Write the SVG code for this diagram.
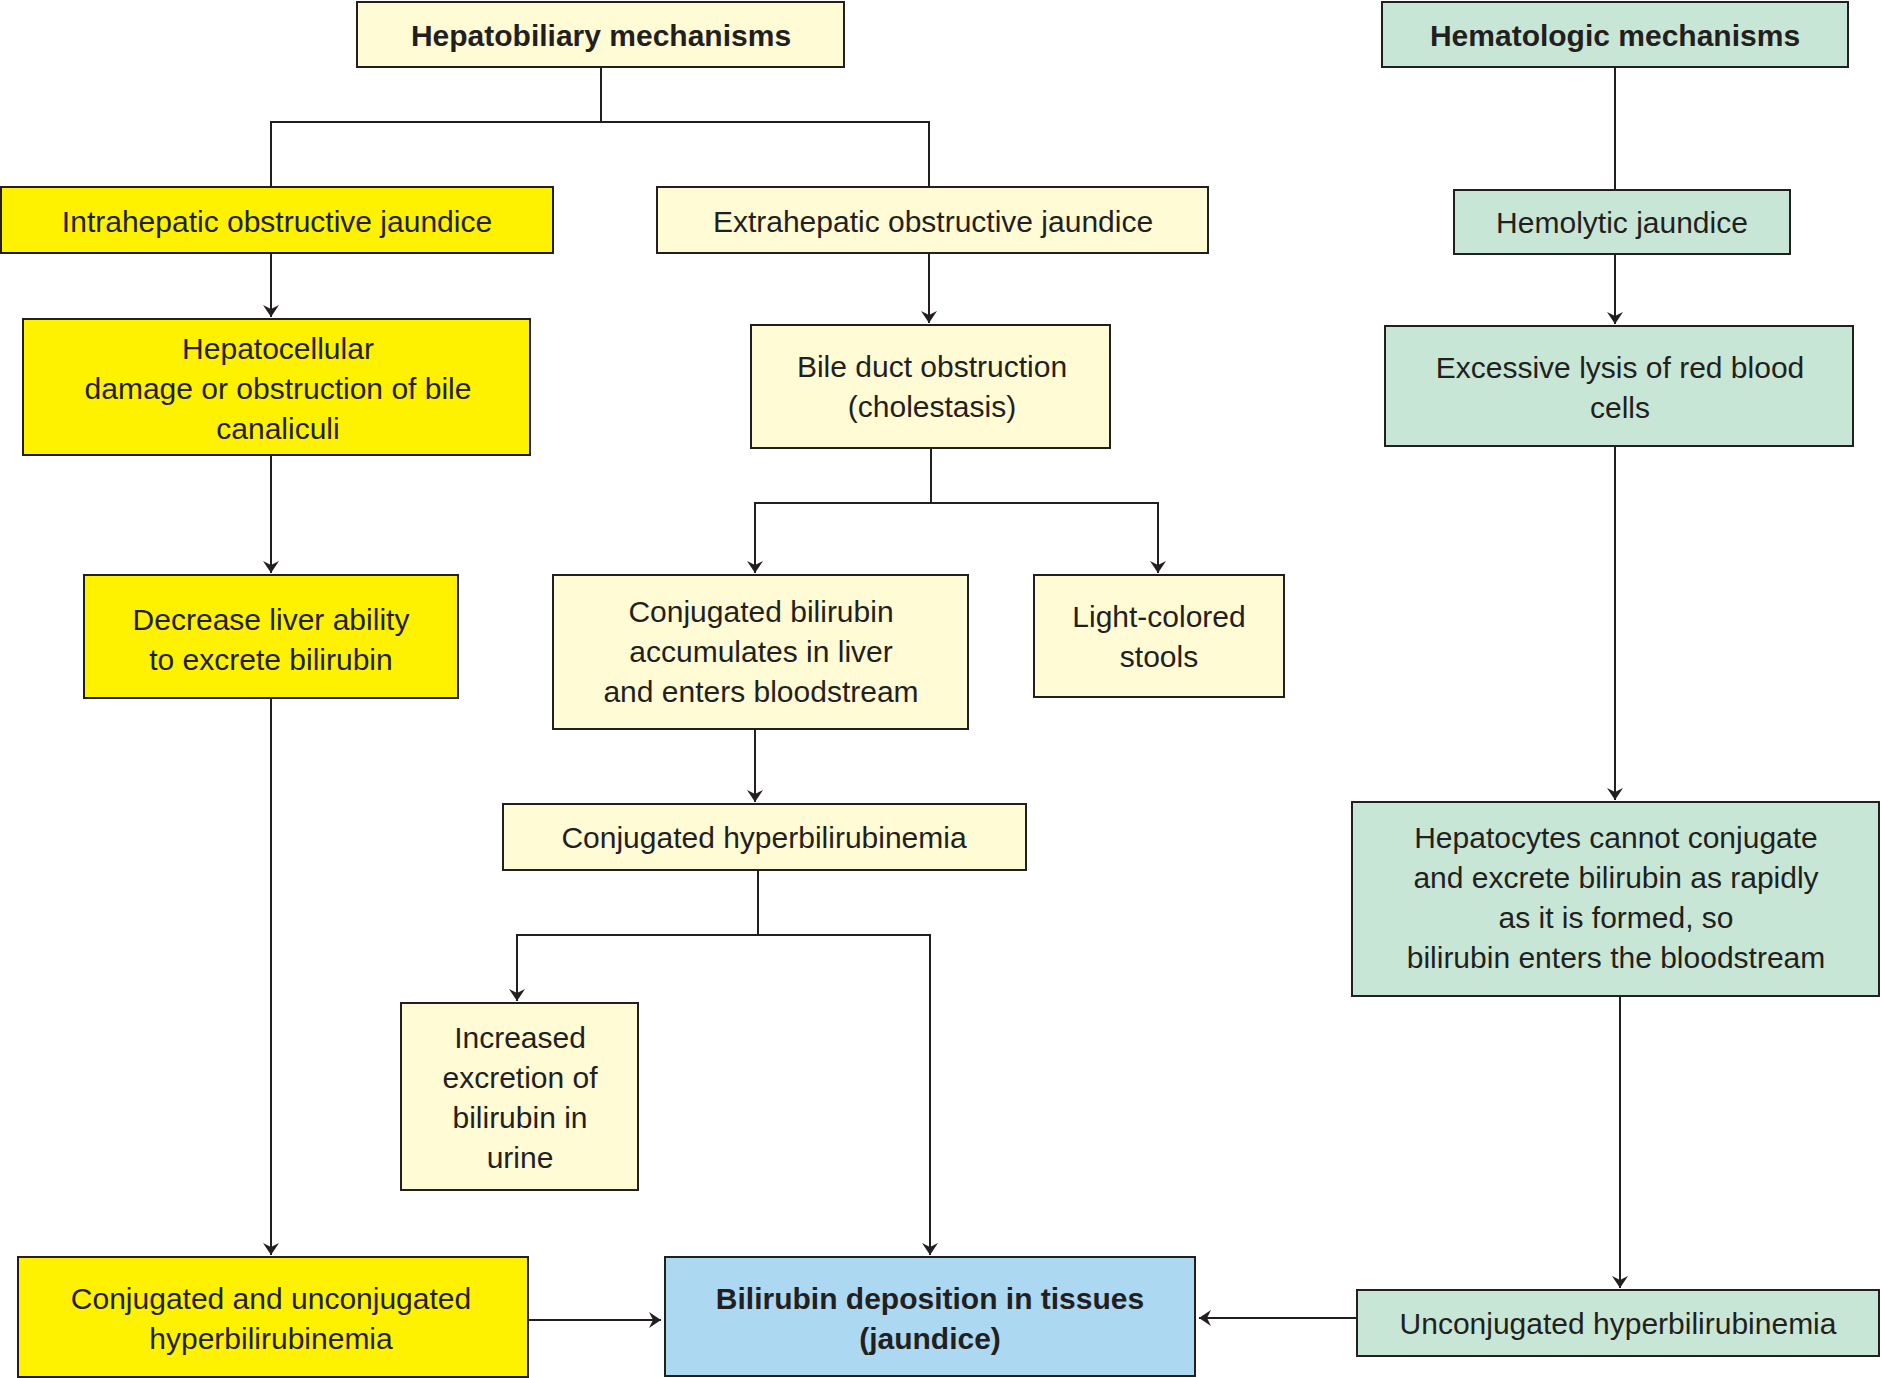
<svg xmlns="http://www.w3.org/2000/svg" width="1881" height="1378" viewBox="0 0 1881 1378">
<defs>
<style>
rect{stroke:#231f20;stroke-width:2}
.y{fill:#fff200}.p{fill:#fffbd5}.g{fill:#c8e6d6}.b{fill:#acd8f1}
text{font-family:"Liberation Sans",Arial,sans-serif;font-size:30px;fill:#231f20;text-anchor:middle}
.bd{font-weight:bold}
#connectors path{fill:none;stroke:#231f20;stroke-width:2}
</style>
<marker id="a" viewBox="0 0 12 20" refX="12" refY="10" markerWidth="12" markerHeight="20" markerUnits="userSpaceOnUse" orient="auto"><path d="M0,2 L12,10 L0,18 L4,10 Z" fill="#231f20"/></marker>
</defs>
<rect width="1881" height="1378" fill="#fff" style="stroke:none"/>
<g id="connectors">
<path d="M601,67 V122 M271,187 V122 H929 V187"/>
<path d="M1615,67 V190"/>
<path d="M271,253 V317" marker-end="url(#a)"/>
<path d="M929,253 V323" marker-end="url(#a)"/>
<path d="M1615,254 V324" marker-end="url(#a)"/>
<path d="M271,455 V573" marker-end="url(#a)"/>
<path d="M931,448 V503 H755 V573" marker-end="url(#a)"/>
<path d="M931,503 H1158 V573" marker-end="url(#a)"/>
<path d="M755,729 V802" marker-end="url(#a)"/>
<path d="M758,870 V935 H517 V1001" marker-end="url(#a)"/>
<path d="M758,935 H930 V1255" marker-end="url(#a)"/>
<path d="M271,698 V1255" marker-end="url(#a)"/>
<path d="M1615,446 V800" marker-end="url(#a)"/>
<path d="M1620,996 V1288" marker-end="url(#a)"/>
<path d="M528,1320 H661" marker-end="url(#a)"/>
<path d="M1357,1318 H1199" marker-end="url(#a)"/>
</g>
<g id="hepatobiliary"><rect class="p" x="357" y="2" width="487" height="65"/><text class="bd" x="601" y="46">Hepatobiliary mechanisms</text></g>
<g id="hematologic"><rect class="g" x="1382" y="2" width="466" height="65"/><text class="bd" x="1615" y="46">Hematologic mechanisms</text></g>
<g id="intrahepatic"><rect class="y" x="1" y="187" width="552" height="66"/><text x="277" y="232">Intrahepatic obstructive jaundice</text></g>
<g id="extrahepatic"><rect class="p" x="657" y="187" width="551" height="66"/><text x="933" y="232">Extrahepatic obstructive jaundice</text></g>
<g id="hemolytic"><rect class="g" x="1454" y="190" width="336" height="64"/><text x="1622" y="233">Hemolytic jaundice</text></g>
<g id="hepatocellular"><rect class="y" x="23" y="319" width="507" height="136"/><text x="278" y="359">Hepatocellular</text><text x="278" y="399">damage or obstruction of bile</text><text x="278" y="439">canaliculi</text></g>
<g id="bileduct"><rect class="p" x="751" y="325" width="359" height="123"/><text x="932" y="377">Bile duct obstruction</text><text x="932" y="417">(cholestasis)</text></g>
<g id="lysis"><rect class="g" x="1385" y="326" width="468" height="120"/><text x="1620" y="378">Excessive lysis of red blood</text><text x="1620" y="418">cells</text></g>
<g id="decrease"><rect class="y" x="84" y="575" width="374" height="123"/><text x="271" y="630">Decrease liver ability</text><text x="271" y="670">to excrete bilirubin</text></g>
<g id="accumulates"><rect class="p" x="553" y="575" width="415" height="154"/><text x="761" y="622">Conjugated bilirubin</text><text x="761" y="662">accumulates in liver</text><text x="761" y="702">and enters bloodstream</text></g>
<g id="stools"><rect class="p" x="1034" y="575" width="250" height="122"/><text x="1159" y="627">Light-colored</text><text x="1159" y="667">stools</text></g>
<g id="conjhyper"><rect class="p" x="503" y="804" width="523" height="66"/><text x="764" y="848">Conjugated hyperbilirubinemia</text></g>
<g id="hepatocytes"><rect class="g" x="1352" y="802" width="527" height="194"/><text x="1616" y="848">Hepatocytes cannot conjugate</text><text x="1616" y="888">and excrete bilirubin as rapidly</text><text x="1616" y="928">as it is formed, so</text><text x="1616" y="968">bilirubin enters the bloodstream</text></g>
<g id="increased"><rect class="p" x="401" y="1003" width="237" height="187"/><text x="520" y="1048">Increased</text><text x="520" y="1088">excretion of</text><text x="520" y="1128">bilirubin in</text><text x="520" y="1168">urine</text></g>
<g id="conjunconj"><rect class="y" x="18" y="1257" width="510" height="120"/><text x="271" y="1309">Conjugated and unconjugated</text><text x="271" y="1349">hyperbilirubinemia</text></g>
<g id="deposition"><rect class="b" x="665" y="1257" width="530" height="119"/><text class="bd" x="930" y="1309">Bilirubin deposition in tissues</text><text class="bd" x="930" y="1349">(jaundice)</text></g>
<g id="unconj"><rect class="g" x="1357" y="1290" width="522" height="66"/><text x="1618" y="1334">Unconjugated hyperbilirubinemia</text></g>
</svg>
